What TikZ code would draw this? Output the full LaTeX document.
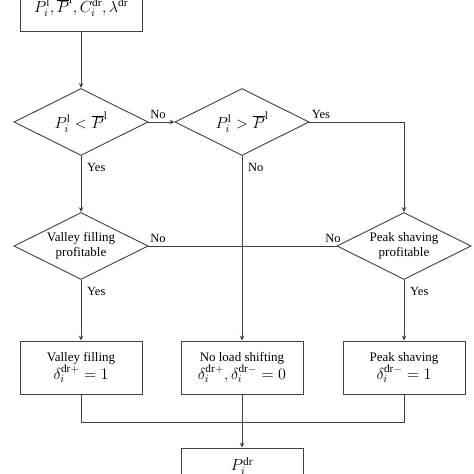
\RequirePackage{fix-cm}
\documentclass[tikz,border=0pt]{standalone}
\usepackage{fontspec}
\setmainfont{Liberation Serif}
\usetikzlibrary{shapes.geometric,arrows.meta}
\newcommand\mymth[1]{{\fontsize{16}{18}\selectfont$#1$}}
\begin{document}
\begin{tikzpicture}[x=1pt,y=-1pt,
  line/.style={draw=black!75,line width=0.9pt},
  arr/.style={line,-{Stealth[length=5pt,width=4.5pt]}},
  boxn/.style={line,rectangle,minimum width=122pt,minimum height=53pt,inner sep=0pt,align=center,font=\fontsize{13}{16}\selectfont},
  dia/.style={line,diamond,aspect=2,minimum width=134pt,minimum height=67pt,inner sep=0pt,align=center,font=\fontsize{13}{15}\selectfont},
  lab/.style={font=\fontsize{12.5}{14}\selectfont,inner sep=1pt}]
\useasboundingbox (0,0) rectangle (474,474);
\clip (0,0) rectangle (474,474);
\node[boxn,minimum height=60pt] (top) at (81,1) {};
\node (toptext) at (81,6) {\mymth{P_i^{\mathrm{l}}, \overline{P}^{\mathrm{l}}, C_i^{\mathrm{dr}}, \lambda^{\mathrm{dr}}}};
\node[dia] (d1) at (81,122) {\mymth{P_i^{\mathrm{l}} < \overline{P}^{\mathrm{l}}}};
\node[dia] (d2) at (242,122) {\mymth{P_i^{\mathrm{l}} > \overline{P}^{\mathrm{l}}}};
\node[dia] (d3) at (81,246) {Valley filling\\profitable};
\node[dia] (d4) at (404,246) {Peak shaving\\profitable};
\node[boxn] (b1) at (81,367.5) {Valley filling\\\mymth{\delta_i^{\mathrm{dr}+}=1}};
\node[boxn] (b2) at (242,367.5) {No load shifting\\\mymth{\delta_i^{\mathrm{dr}+},\delta_i^{\mathrm{dr}-}=0}};
\node[boxn] (b3) at (404,367.5) {Peak shaving\\\mymth{\delta_i^{\mathrm{dr}-}=1}};
\node[boxn,minimum height=60pt] (fin) at (242,478) {};
\node (fintext) at (242,466) {\mymth{P_i^{\mathrm{dr}}}};
\coordinate (c1) at (404,122);
\coordinate (m1) at (81,422);
\coordinate (m2) at (242,422);
\coordinate (m3) at (404,422);
\draw[arr] (top.south) -- (d1.north);
\draw[arr] (d1.east) -- (d2.west);
\draw[arr] (d1.south) -- (d3.north);
\draw[arr] (d2.south) -- (b2.north);
\draw[line] (d2.east) -- (c1);
\draw[arr] (c1) -- (d4.north);
\draw[line] (d3.east) -- (d4.west);
\draw[arr] (d3.south) -- (b1.north);
\draw[arr] (d4.south) -- (b3.north);
\draw[line] (b1.south) -- (m1) -- (m3) -- (b3.south);
\draw[line] (b2.south) -- (m2);
\draw[arr] (m2) -- (fin.north);
\node[lab,anchor=south] (l1) at (158,120) {No};
\node[lab,anchor=south] (l2) at (321,120) {Yes};
\node[lab,anchor=west] (l3) at (86,167) {Yes};
\node[lab,anchor=west] (l4) at (247,167) {No};
\node[lab,anchor=south] (l5) at (158,244) {No};
\node[lab,anchor=south] (l6) at (333,244) {No};
\node[lab,anchor=west] (l7) at (86,291) {Yes};
\node[lab,anchor=west] (l8) at (409,291) {Yes};
\end{tikzpicture}
\end{document}
